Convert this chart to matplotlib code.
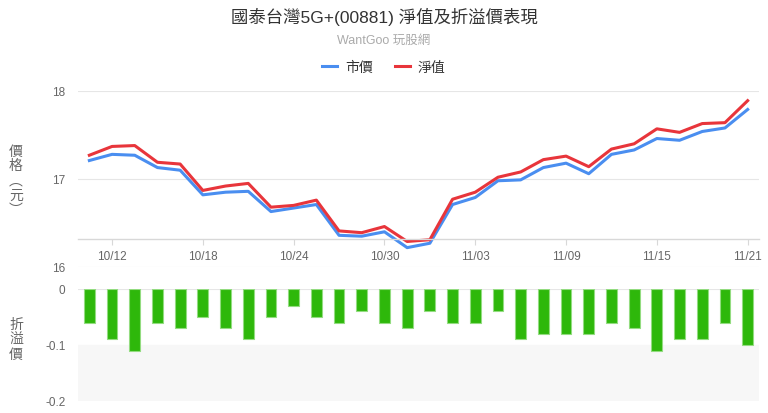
import matplotlib
matplotlib.use('Agg')
import matplotlib.pyplot as plt
import numpy as np

plt.rcParams['font.family'] = ['Liberation Sans', 'Noto Sans CJK TC', 'DejaVu Sans']

dates = ['10/11', '10/12', '10/13', '10/16', '10/17', '10/18', '10/19', '10/20',
         '10/23', '10/24', '10/25', '10/26', '10/27', '10/30', '10/31', '11/01',
         '11/02', '11/03', '11/06', '11/07', '11/08', '11/09', '11/10', '11/13',
         '11/14', '11/15', '11/16', '11/17', '11/20', '11/21']

# 淨值
nav = [17.27, 17.37, 17.38, 17.19, 17.17, 16.87, 16.92, 16.95, 16.68, 16.70,
       16.76, 16.41, 16.39, 16.46, 16.29, 16.31, 16.77, 16.85, 17.02, 17.08,
       17.22, 17.26, 17.14, 17.34, 17.40, 17.57, 17.53, 17.63, 17.64, 17.89]
# 市價
price = [17.21, 17.28, 17.27, 17.13, 17.10, 16.82, 16.85, 16.86, 16.63, 16.67,
         16.71, 16.36, 16.35, 16.40, 16.22, 16.27, 16.71, 16.79, 16.98, 16.99,
         17.13, 17.18, 17.06, 17.28, 17.33, 17.46, 17.44, 17.54, 17.58, 17.79]
# 折溢價
premium = [-0.06, -0.09, -0.11, -0.06, -0.07, -0.05, -0.07, -0.09, -0.05, -0.03,
           -0.05, -0.06, -0.04, -0.06, -0.07, -0.04, -0.06, -0.06, -0.04, -0.09,
           -0.08, -0.08, -0.08, -0.06, -0.07, -0.11, -0.09, -0.09, -0.06, -0.10]

W, H = 768, 414
fig = plt.figure(figsize=(W / 100, H / 100), dpi=100)

x = np.arange(len(dates))
left = 78 / W
width = 681 / W

# upper panel: price lines
ax1 = fig.add_axes([left, 1 - 268 / H, width, 176 / H])
ax1.plot(x, price, color='#4a8ef0', lw=2.2, label='市價', solid_joinstyle='round')
ax1.plot(x, nav, color='#e8353b', lw=2.2, label='淨值', solid_joinstyle='round')
ax1.set_xlim(-0.5, len(dates) - 0.5)
ax1.set_ylim(16, 18)
ax1.set_yticks([16, 17, 18])
ax1.set_yticklabels(['16', '17', '18'])
ax1.grid(axis='y', color='#e6e6e6', lw=0.8)
ax1.set_axisbelow(True)
for s in ['top', 'right', 'left']:
    ax1.spines[s].set_visible(False)
ax1.spines['bottom'].set_position(('data', 16 + 28 / 88))
ax1.spines['bottom'].set_color('#d8d8d8')
ax1.spines['bottom'].set_linewidth(1.0)
tick_idx = list(range(1, len(dates), 4))
ax1.set_xticks(tick_idx)
ax1.set_xticklabels([dates[i] for i in tick_idx])
ax1.tick_params(axis='x', length=4, color='#d8d8d8', pad=4, labelsize=8.5, labelcolor='#666666')
ax1.tick_params(axis='y', length=0, pad=9, labelsize=8.5, labelcolor='#666666')

# lower panel: premium / discount bars
ax2 = fig.add_axes([left, 1 - 402 / H, width, 112 / H])
ax2.axhspan(-0.2, -0.1, color='#f7f7f7', lw=0)
ax2.bar(x, premium, width=0.48, color='#2eb80b', edgecolor='#93dc80', linewidth=0.8)
ax2.set_xlim(-0.5, len(dates) - 0.5)
ax2.set_ylim(-0.2, 0)
ax2.set_yticks([0, -0.1, -0.2])
ax2.set_yticklabels(['0', '-0.1', '-0.2'])
ax2.set_xticks([])
ax2.grid(axis='y', color='#e6e6e6', lw=0.8)
ax2.set_axisbelow(True)
for s in ax2.spines.values():
    s.set_visible(False)
ax2.tick_params(axis='y', length=0, pad=9, labelsize=8.5, labelcolor='#666666')

# titles
fig.text(0.5, 1 - 17 / H, '國泰台灣5G+(00881) 淨值及折溢價表現', ha='center', va='center',
         fontsize=12.5, color='#333333')
fig.text(0.5, 1 - 41 / H, 'WantGoo 玩股網', ha='center', va='center',
         fontsize=9, color='#aaaaaa')
fig.text(16 / W, 1 - 181 / H, '價\n格\n︵\n元\n︶', ha='center', va='center',
         fontsize=10, color='#666666', linespacing=1.05, family='Noto Sans CJK TC')
fig.text(16 / W, 1 - 340 / H, '折\n溢\n價', ha='center', va='center',
         fontsize=10, color='#666666', linespacing=1.05, family='Noto Sans CJK TC')

fig.legend(loc='center', bbox_to_anchor=(0.5, 1 - 68 / H), ncol=2, frameon=False,
           fontsize=10, handlelength=1.05, columnspacing=1.6, handletextpad=0.6,
           labelcolor='#333333')

fig.savefig('out.png', dpi=100)
